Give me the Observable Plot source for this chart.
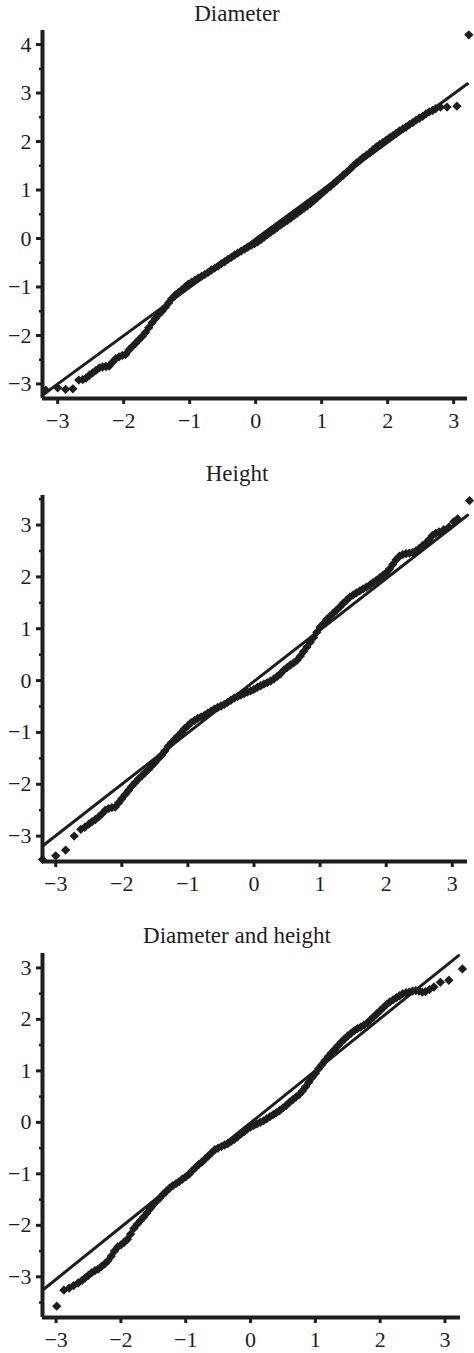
<!DOCTYPE html>
<html><head><meta charset="utf-8">
<script src="https://cdn.jsdelivr.net/npm/d3@7"></script>
<script src="https://cdn.jsdelivr.net/npm/@observablehq/plot@0.6"></script>
<style>
body{margin:0;background:#fff;}
#root{position:relative;width:474px;height:1353px;overflow:hidden;font-family:"Liberation Serif","Times New Roman",serif;color:#1e1e1e;background:#fff;}
.title{position:absolute;left:0;width:474px;text-align:center;font-size:23px;line-height:23px;white-space:nowrap;font-weight:normal;}
.panel{position:absolute;left:0;}
.panel text{font-family:"Liberation Serif","Times New Roman",serif !important;}
</style></head><body><div id="root"></div>
<script>
const ink = "#1e1e1e";
const serif = "Liberation Serif";
const panelTitles = ["Diameter", "Height", "Diameter and height"];
const xTicks = [-3, -2, -1, 0, 1, 2, 3];
const yTicksDiameter = [-3, -2, -1, 0, 1, 2, 3, 4];
const yTicksHeight = [-3, -2, -1, 0, 1, 2, 3];
const yTicksBoth = [-3, -2, -1, 0, 1, 2, 3];
const yMinorDiameter = [-2.5, -1.5, -0.5, 0.5, 1.5, 2.5, 3.5];
const yMinorHeight = [-2.5, -1.5, -0.5, 0.5, 1.5, 2.5, 3.5];
const yMinorBoth = [-3.5, -2.5, -1.5, -0.5, 0.5, 1.5, 2.5];

// [theoretical quantile, sample quantile]
const diameterPoints = [
[-3.18,-3.13],[-3.0,-3.08],[-2.88,-3.11],[-2.77,-3.1],[-2.68,-2.92],[-2.62,-2.91],[-2.57,-2.88],[-2.52,-2.82],
[-2.47,-2.77],[-2.42,-2.72],[-2.37,-2.67],[-2.32,-2.65],[-2.27,-2.64],[-2.22,-2.63],[-2.17,-2.55],[-2.12,-2.48],
[-2.07,-2.44],[-2.02,-2.41],[-1.97,-2.39],[-1.92,-2.3],[-1.87,-2.23],[-1.82,-2.16],[-1.77,-2.09],[-1.72,-2.02],
[-1.67,-1.94],[-1.62,-1.84],[-1.57,-1.74],[-1.52,-1.65],[-1.47,-1.57],[-1.42,-1.5],[-1.37,-1.42],[-1.32,-1.33],
[-1.27,-1.24],[-1.22,-1.17],[-1.17,-1.11],[-1.12,-1.06],[-1.07,-1.0],[-1.02,-0.94],[-0.97,-0.9],[-0.92,-0.86],
[-0.87,-0.82],[-0.82,-0.78],[-0.77,-0.74],[-0.72,-0.7],[-0.67,-0.65],[-0.62,-0.61],[-0.57,-0.57],[-0.52,-0.52],
[-0.47,-0.48],[-0.42,-0.43],[-0.37,-0.39],[-0.32,-0.34],[-0.27,-0.3],[-0.22,-0.26],[-0.17,-0.22],[-0.12,-0.18],
[-0.07,-0.14],[-0.02,-0.11],[0.03,-0.07],[0.08,-0.02],[0.13,0.03],[0.18,0.08],[0.23,0.13],[0.28,0.18],
[0.33,0.23],[0.38,0.28],[0.43,0.33],[0.48,0.37],[0.53,0.42],[0.58,0.47],[0.63,0.52],[0.68,0.57],
[0.73,0.62],[0.78,0.67],[0.83,0.72],[0.88,0.78],[0.93,0.84],[0.98,0.9],[1.03,0.96],[1.08,1.02],
[1.13,1.07],[1.18,1.13],[1.23,1.19],[1.28,1.25],[1.33,1.31],[1.38,1.37],[1.43,1.43],[1.48,1.5],
[1.53,1.56],[1.58,1.61],[1.63,1.67],[1.68,1.72],[1.73,1.77],[1.78,1.83],[1.83,1.89],[1.88,1.94],
[1.93,1.98],[1.98,2.03],[2.03,2.08],[2.08,2.12],[2.13,2.17],[2.18,2.22],[2.23,2.26],[2.28,2.3],
[2.33,2.35],[2.38,2.39],[2.43,2.44],[2.48,2.48],[2.53,2.52],[2.58,2.57],[2.63,2.61],[2.68,2.64],
[2.73,2.68],[2.8,2.71],[2.9,2.71],[3.05,2.73],[3.23,4.2]
];
const diameterLine = [[-3.23,-3.23],[3.21,3.19]];

const heightPoints = [
[-3.2,-3.45],[-3.0,-3.38],[-2.85,-3.27],[-2.72,-3.0],[-2.62,-2.87],[-2.56,-2.83],[-2.5,-2.77],[-2.45,-2.72],
[-2.4,-2.68],[-2.35,-2.63],[-2.3,-2.57],[-2.25,-2.5],[-2.2,-2.47],[-2.15,-2.45],[-2.1,-2.44],[-2.05,-2.36],
[-2.0,-2.28],[-1.95,-2.2],[-1.9,-2.12],[-1.85,-2.04],[-1.8,-1.97],[-1.75,-1.9],[-1.7,-1.84],[-1.65,-1.78],
[-1.6,-1.72],[-1.55,-1.65],[-1.5,-1.58],[-1.45,-1.51],[-1.4,-1.44],[-1.35,-1.36],[-1.3,-1.27],[-1.25,-1.2],
[-1.2,-1.13],[-1.15,-1.07],[-1.1,-1.0],[-1.05,-0.93],[-1.0,-0.87],[-0.95,-0.81],[-0.9,-0.77],[-0.85,-0.73],
[-0.8,-0.7],[-0.75,-0.67],[-0.7,-0.63],[-0.65,-0.59],[-0.6,-0.55],[-0.55,-0.52],[-0.5,-0.49],[-0.45,-0.46],
[-0.4,-0.42],[-0.35,-0.38],[-0.3,-0.34],[-0.25,-0.31],[-0.2,-0.28],[-0.15,-0.25],[-0.1,-0.22],[-0.05,-0.2],
[0.0,-0.17],[0.05,-0.13],[0.1,-0.1],[0.15,-0.07],[0.2,-0.04],[0.25,-0.01],[0.3,0.03],[0.35,0.08],
[0.4,0.13],[0.45,0.2],[0.5,0.25],[0.55,0.3],[0.6,0.34],[0.65,0.39],[0.7,0.47],[0.75,0.56],
[0.8,0.65],[0.85,0.74],[0.9,0.83],[0.95,0.93],[1.0,1.03],[1.05,1.1],[1.1,1.18],[1.15,1.24],
[1.2,1.3],[1.25,1.36],[1.3,1.42],[1.35,1.49],[1.4,1.55],[1.45,1.61],[1.5,1.65],[1.55,1.69],
[1.6,1.73],[1.65,1.77],[1.7,1.8],[1.75,1.84],[1.8,1.89],[1.85,1.93],[1.9,1.98],[1.95,2.03],
[2.0,2.08],[2.05,2.15],[2.1,2.24],[2.15,2.33],[2.2,2.4],[2.25,2.43],[2.3,2.45],[2.35,2.46],
[2.4,2.47],[2.45,2.5],[2.5,2.55],[2.55,2.6],[2.6,2.65],[2.65,2.72],[2.7,2.8],[2.75,2.84],
[2.8,2.87],[2.87,2.91],[2.95,2.96],[3.02,3.06],[3.08,3.12],[3.26,3.47]
];
const heightLine = [[-3.2,-3.19],[3.23,3.19]];

const bothPoints = [
[-2.99,-3.57],[-2.88,-3.26],[-2.8,-3.22],[-2.73,-3.17],[-2.66,-3.12],[-2.6,-3.07],[-2.55,-3.02],[-2.5,-2.97],
[-2.45,-2.92],[-2.4,-2.88],[-2.35,-2.85],[-2.3,-2.8],[-2.25,-2.75],[-2.2,-2.69],[-2.15,-2.6],[-2.1,-2.5],
[-2.05,-2.42],[-2.0,-2.38],[-1.95,-2.33],[-1.9,-2.27],[-1.85,-2.17],[-1.8,-2.06],[-1.75,-1.98],[-1.7,-1.91],
[-1.65,-1.84],[-1.6,-1.76],[-1.55,-1.68],[-1.5,-1.6],[-1.45,-1.53],[-1.4,-1.47],[-1.35,-1.4],[-1.3,-1.34],
[-1.25,-1.28],[-1.2,-1.23],[-1.15,-1.19],[-1.1,-1.15],[-1.05,-1.1],[-1.0,-1.06],[-0.95,-1.01],[-0.9,-0.94],
[-0.85,-0.88],[-0.8,-0.82],[-0.75,-0.77],[-0.7,-0.71],[-0.65,-0.65],[-0.6,-0.59],[-0.55,-0.53],[-0.5,-0.5],
[-0.45,-0.47],[-0.4,-0.44],[-0.35,-0.41],[-0.3,-0.37],[-0.25,-0.33],[-0.2,-0.28],[-0.15,-0.23],[-0.1,-0.18],
[-0.05,-0.13],[0.0,-0.09],[0.05,-0.06],[0.1,-0.03],[0.15,0.0],[0.2,0.03],[0.25,0.07],[0.3,0.11],
[0.35,0.15],[0.4,0.19],[0.45,0.23],[0.5,0.28],[0.55,0.33],[0.6,0.39],[0.65,0.44],[0.7,0.49],
[0.75,0.54],[0.8,0.61],[0.85,0.69],[0.9,0.78],[0.95,0.87],[1.0,0.95],[1.05,1.04],[1.1,1.12],
[1.15,1.2],[1.2,1.28],[1.25,1.35],[1.3,1.42],[1.35,1.49],[1.4,1.56],[1.45,1.62],[1.5,1.68],
[1.55,1.73],[1.6,1.78],[1.65,1.82],[1.7,1.85],[1.75,1.89],[1.8,1.93],[1.85,1.99],[1.9,2.05],
[1.95,2.11],[2.0,2.17],[2.05,2.23],[2.1,2.29],[2.15,2.34],[2.2,2.38],[2.25,2.42],[2.3,2.46],
[2.35,2.5],[2.4,2.52],[2.45,2.53],[2.5,2.55],[2.55,2.56],[2.6,2.55],[2.65,2.53],[2.7,2.54],
[2.76,2.58],[2.83,2.63],[2.93,2.72],[3.06,2.76],[3.27,2.98]
];
const bothLine = [[-3.21,-3.26],[3.21,3.24]];

const fmt = d => d < 0 ? "\u2212" + Math.abs(d) : String(d);
const root = document.getElementById("root");

function addPanel(cfg) {
  const t = document.createElement("div");
  t.className = "title";
  t.style.top = cfg.titleTop + "px";
  t.textContent = cfg.title;
  root.appendChild(t);

  const chart = Plot.plot({
    width: 474,
    height: cfg.height,
    marginLeft: 42,
    marginRight: cfg.marginRight,
    marginTop: 8,
    marginBottom: cfg.marginBottom,
    style: {fontFamily: serif, fontSize: "22px", color: ink, background: "transparent", overflow: "visible"},
    x: {domain: cfg.xDomain, label: null},
    y: {domain: cfg.yDomain, label: null},
    marks: [
      Plot.axisX({ticks: xTicks, tickFormat: fmt, tickSize: 6, tickPadding: 8, strokeWidth: 3, stroke: ink, fill: ink, fontFamily: serif, fontSize: 22, label: null}),
      Plot.axisY({ticks: cfg.yTicks, tickFormat: fmt, tickSize: 6, tickPadding: 5, strokeWidth: 3, stroke: ink, fill: ink, fontFamily: serif, fontSize: 22, label: null}),
      Plot.axisY({ticks: cfg.yMinor, tickFormat: () => "", tickSize: 3, strokeWidth: 2.5, stroke: ink, label: null}),
      Plot.ruleX([cfg.xDomain[0]], {stroke: ink, strokeWidth: 4}),
      Plot.ruleY([cfg.yDomain[0]], {stroke: ink, strokeWidth: 4}),
      Plot.line(cfg.line, {x: d => d[0], y: d => d[1], stroke: ink, strokeWidth: 3}),
      Plot.dot(cfg.points, {x: d => d[0], y: d => d[1], symbol: "diamond2", r: 4.2, fill: ink, stroke: "none"})
    ]
  });
  chart.classList.add("panel");
  chart.style.top = cfg.top + "px";
  root.appendChild(chart);
}

addPanel({title: panelTitles[0], titleTop: 2, top: 22, height: 418, marginBottom: 42, marginRight: 7,
  xDomain: [-3.23, 3.21], yDomain: [-3.3, 4.29], yTicks: yTicksDiameter, yMinor: yMinorDiameter,
  points: diameterPoints, line: diameterLine});
addPanel({title: panelTitles[1], titleTop: 461.5, top: 487, height: 413, marginBottom: 39, marginRight: 7,
  xDomain: [-3.2, 3.23], yDomain: [-3.49, 3.57], yTicks: yTicksHeight, yMinor: yMinorHeight,
  points: heightPoints, line: heightLine});
addPanel({title: panelTitles[2], titleTop: 923.5, top: 945, height: 408, marginBottom: 36, marginRight: 14,
  xDomain: [-3.21, 3.24], yDomain: [-3.79, 3.28], yTicks: yTicksBoth, yMinor: yMinorBoth,
  points: bothPoints, line: bothLine});
</script>
</body></html>
